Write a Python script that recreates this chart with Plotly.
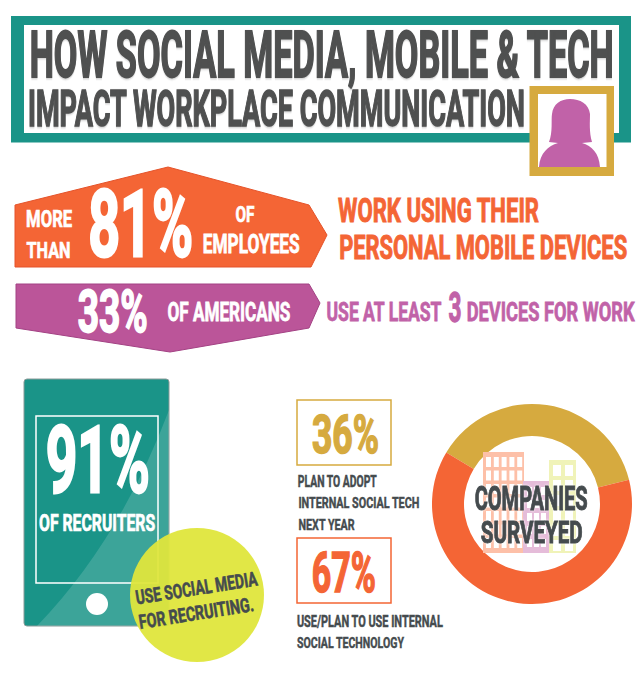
import json

import plotly.graph_objects as go

# chart data
stat_values = [81, 33, 91, 36, 67]
donut_labels = ["Plan to adopt next year", "Use/plan to use"]
donut_values = [37.5, 62.5]
donut_colors = ["#d6aa3f", "#f46535"]
title_lines = ["HOW SOCIAL MEDIA, MOBILE & TECH", "IMPACT WORKPLACE COMMUNICATION"]
top_words = ["MORE", "THAN", "OF", "EMPLOYEES"]
top_claim = ["WORK USING THEIR", "PERSONAL MOBILE DEVICES"]
second_words = ["OF AMERICANS", "USE AT LEAST", "3", "DEVICES FOR WORK"]
phone_words = ["OF RECRUITERS", "USE SOCIAL MEDIA", "FOR RECRUITING."]
gold_note = ["PLAN TO ADOPT", "INTERNAL SOCIAL TECH", "NEXT YEAR"]
orange_note = ["USE/PLAN TO USE INTERNAL", "SOCIAL TECHNOLOGY"]
donut_center = ["COMPANIES", "SURVEYED"]

W, H = 640, 677
TEAL = "#1a9488"
ORANGE = "#f46535"
GOLD = "#d6aa3f"
PURPLE = "#bb5599"
PINK = "#c162a8"
LIME = "#dfe63c"
GRAY = "#4f5050"
DARK = "#454b4e"

shapes = []
annotations = []
text_widths = []
text_strokes = []
text_filters = []


def rect(x0, y0, x1, y1, fill="rgba(0,0,0,0)", line=None, width=0):
    shapes.append(dict(type="rect", x0=x0, y0=y0, x1=x1, y1=y1, fillcolor=fill,
                       line=dict(color=line or fill, width=width)))


def path(d, fill, line=None, width=0):
    shapes.append(dict(type="path", path=d, fillcolor=fill,
                       line=dict(color=line or fill, width=width)))


def note(text, x0, x1, y0, y1, color, angle=0, glow="none"):
    """text squeezed into the x0-x1 span, y0-y1 is the cap height"""
    size = (y1 - y0) / 0.71
    annotations.append(dict(
        text=text, x=(x0 + x1) / 2, y=(y0 + y1) / 2, xref="x", yref="y",
        xanchor="center", yanchor="middle", showarrow=False, textangle=angle,
        font=dict(family="Roboto", size=size, color=color, weight=700),
    ))
    text_widths.append(x1 - x0)
    text_strokes.append(round(size * 0.03, 2))
    text_filters.append(glow)


# header
rect(11, 16, 631, 142.5, fill=TEAL)
rect(24, 25, 619, 133, fill="white")
rect(529.5, 86, 614, 176, fill=GOLD)
rect(538, 94, 606.5, 167, fill="white")
path("M 539,167 C 540,153 548,146 558,143 L 549,142 C 553,132 551,120 552,114 "
     "C 553,104 561,99 570,99 C 580,99 589,104 590,114 C 590,122 589,132 592,142 "
     "L 582,143 C 592,146 599,153 600,167 Z", PINK)

# banners
path("M 15,205 L 168,167 L 309,205 L 327,235 L 311,267 L 15,267 Z", ORANGE, "#e5532a", 1)
path("M 16,284 L 309,284 L 320,303 L 309,328 L 170,352 L 16,328 Z", PURPLE, "#a34284", 1)

# phone
path("M 27,379 L 166,379 Q 169,379 169,382 L 169,623 Q 169,626 166,626 L 27,626 "
     "Q 24,626 24,623 L 24,382 Q 24,379 27,379 Z", TEAL, "#8a9a98", 1)
rect(36, 416, 158, 583, line="white", width=1.5)
path("M 37,626 Q 120,540 169,410 L 169,623 Q 169,626 166,626 Z", "rgba(255,255,255,0.15)")
shapes.append(dict(type="circle", x0=86, y0=593, x1=108, y1=615, fillcolor="white",
                   line=dict(width=0)))
shapes.append(dict(type="circle", x0=130, y0=528, x1=264, y1=662, fillcolor=LIME,
                   opacity=0.95, line=dict(width=0)))

# boxes next to the donut
rect(297, 400, 391, 465, line=GOLD, width=1.5)
rect(297, 538, 391, 603, line=ORANGE, width=1.5)

# buildings in the donut hole
rect(483, 452, 524, 553, fill="#fdc0a8")
rect(523, 481, 549, 553, fill="#e5bcd9")
rect(549, 460, 576, 553, fill="#f0f3b8")
for row in range(7):
    for col in range(5):
        rect(486 + col * 7.8, 457 + row * 13.5, 491 + col * 7.8, 467 + row * 13.5, fill="white")
for row in range(5):
    for col in range(3):
        rect(527 + col * 7, 487 + row * 13, 532 + col * 7, 495 + row * 13, fill="white")
for row in range(6):
    for col in range(2):
        rect(553 + col * 12, 465 + row * 15, 561 + col * 12, 476 + row * 15, fill="white")

# texts
title_glow = "drop-shadow(0px 1.5px 1px #c4c4c4)"
note(title_lines[0], 29, 613, 32, 78, GRAY, glow=title_glow)
note(title_lines[1], 28, 525, 90, 126, GRAY, glow=title_glow)

note(top_words[0], 26, 72, 210, 227, "white")
note(top_words[1], 26, 70, 242, 258, "white")
note(f"{stat_values[0]}%", 88, 193, 191, 257, "white")
note(top_words[2], 235, 254, 206, 222, "white")
note(top_words[3], 202, 299, 235, 253, "white")
note(top_claim[0], 338, 539, 198, 222, ORANGE)
note(top_claim[1], 339, 627, 236, 259, ORANGE)

note(f"{stat_values[1]}%", 78, 148, 290, 332, "white")
note(second_words[0], 167, 290, 303, 321, "white")
note(second_words[1], 326, 441, 303, 321, PINK)
note(second_words[2], 448, 461, 292, 322, PINK)
note(second_words[3], 467, 635, 303, 321, PINK)

note(f"{stat_values[2]}%", 45, 149, 427, 493, "white")
note(phone_words[0], 39, 155, 514, 531, "white")
note(phone_words[1], 135, 258, 581, 595, DARK, angle=-9)
note(phone_words[2], 138, 254, 606, 620, DARK, angle=-9)

note(f"{stat_values[3]}%", 312, 379, 415, 453, GOLD)
note(gold_note[0], 298, 377, 475, 487, DARK)
note(gold_note[1], 298, 419, 497, 508, DARK)
note(gold_note[2], 298, 354, 519, 530, DARK)
note(f"{stat_values[4]}%", 312, 376, 553, 592, ORANGE)
note(orange_note[0], 297, 443, 615, 627, DARK)
note(orange_note[1], 297, 404, 637, 648, DARK)

center_glow = "drop-shadow(0px 0px 1.5px #ffffff)"
note(donut_center[0], 474, 587, 487, 510, DARK, glow=center_glow)
note(donut_center[1], 480, 582, 521, 543, DARK, glow=center_glow)

fig = go.Figure()
# invisible trace so the pixel axes below exist next to the pie
fig.add_trace(go.Scatter(x=[0, W], y=[0, H], mode="lines", line=dict(width=0),
                         hoverinfo="skip", showlegend=False))
fig.add_trace(go.Pie(
    labels=donut_labels, values=donut_values, hole=0.68, sort=False, direction="clockwise",
    rotation=-59, marker=dict(colors=donut_colors, line=dict(width=0)),
    textinfo="none", showlegend=False,
    domain=dict(x=[432 / W, 632 / W], y=[1 - 604 / H, 1 - 404 / H]),
))
fig.update_layout(
    width=W, height=H, margin=dict(l=0, r=0, t=0, b=0),
    paper_bgcolor="white", plot_bgcolor="white", showlegend=False,
    xaxis=dict(range=[0, W], visible=False, fixedrange=True),
    yaxis=dict(range=[H, 0], visible=False, fixedrange=True),
    shapes=shapes, annotations=annotations,
)

# squeeze the glyphs to the condensed look of the poster
squeeze = """
document.body.style.margin = '0';
var widths = %s, strokes = %s, glows = %s;
document.querySelectorAll('.annotation-text').forEach(function (el, i) {
    var cx = parseFloat(el.getAttribute('x')) || 0;
    var sx = widths[i] / el.getComputedTextLength();
    el.setAttribute('transform', 'translate(' + cx + ',0) scale(' + sx + ',1) translate(' + (-cx) + ',0)');
    el.style.stroke = el.style.fill;
    el.style.strokeWidth = strokes[i] + 'px';
    el.style.filter = glows[i];
});
document.querySelectorAll('.annotation rect.bg').forEach(function (el) {
    el.setAttribute('width', 0);
    el.setAttribute('height', 0);
});
""" % (json.dumps(text_widths), json.dumps(text_strokes), json.dumps(text_filters))

fig.write_html("out.html", post_script=squeeze, config=dict(displayModeBar=False))
